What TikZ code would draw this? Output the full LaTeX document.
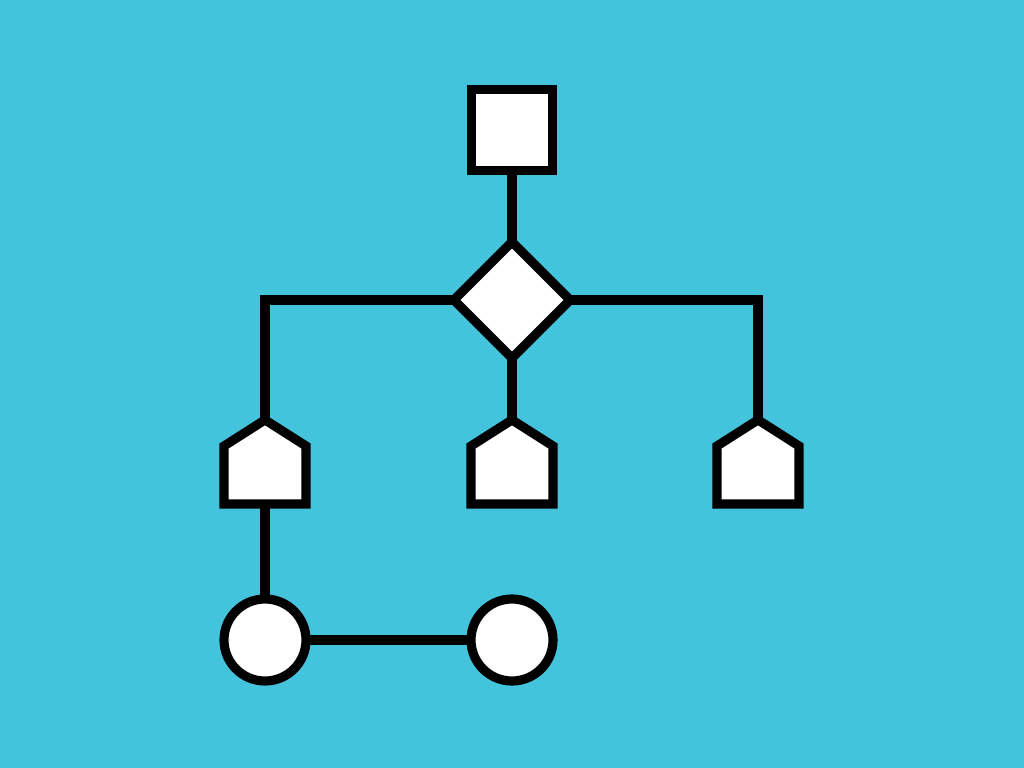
\documentclass[tikz,border=0pt]{standalone}
\usepackage{tikz}
\usetikzlibrary{positioning}
\usetikzlibrary{shapes.geometric,shapes.symbols}
\definecolor{skyblue}{HTML}{44C3DD}
\pgfdeclarelayer{back}
\pgfsetlayers{back,main}

\begin{document}
\begin{tikzpicture}[line width=2.6pt,node distance=1.7cm,on grid,
    link/.style={line width=2.6pt},
    box/.style={draw,fill=white,inner sep=0pt,minimum size=0.81cm},
    choice/.style={diamond,draw,fill=white,inner sep=0pt,minimum size=1.2cm},
    house/.style={signal,signal to=north,signal pointer angle=115,draw,fill=white,
                  inner sep=0pt,minimum width=0.82cm,minimum height=0.58cm},
    ball/.style={circle,draw,fill=white,inner sep=0pt,minimum size=0.82cm}]
   \node[box] (q_top) at (5.12,-1.30) {};
   \node[choice] (q_dia) [below=of q_top] {};
   \node[house] (q_mid) [below=1.75cm of q_dia] {};
   \node[house] (q_left) [left=2.47cm of q_mid] {};
   \node[house] (q_right) [right=2.46cm of q_mid] {};
   \node[ball] (q_c1) [below=1.65cm of q_left] {};
   \node[ball] (q_c2) [right=2.47cm of q_c1] {};
   \begin{pgfonlayer}{back}
    \fill[skyblue] (0,0) rectangle (10.24,-7.68);
    \draw[link] (q_top.center) -- (q_dia.center) -- (q_mid.center);
    \draw[link] (q_dia.center) -| (q_left.center);
    \draw[link] (q_dia.center) -| (q_right.center);
    \draw[link] (q_left.center) -- (q_c1.center) -- (q_c2.center);
   \end{pgfonlayer}
\end{tikzpicture}
\end{document}
